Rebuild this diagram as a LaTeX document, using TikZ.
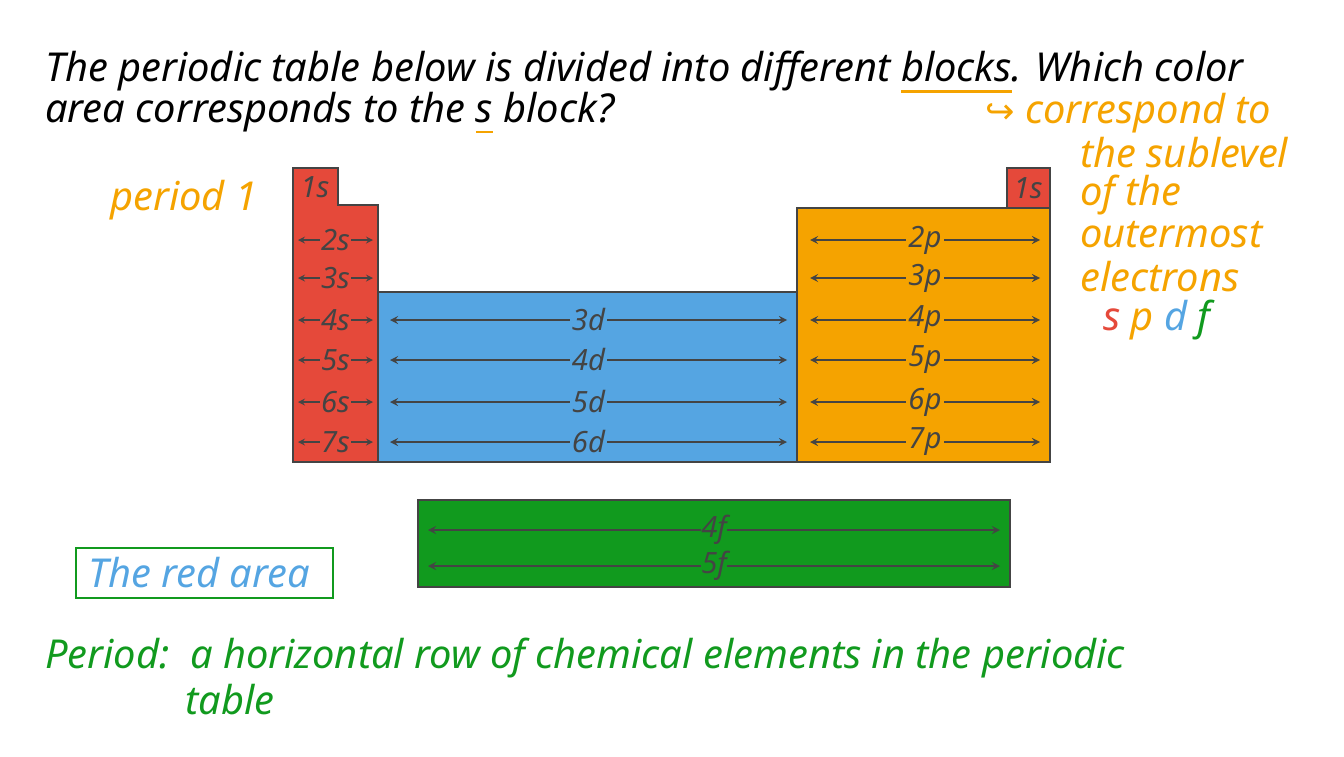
\documentclass[tikz,border=0pt]{standalone}
\usepackage{fontspec}
\setmainfont{Noto Sans}
\newfontfamily\symfont{DejaVu Sans}
\usetikzlibrary{positioning}
\definecolor{sred}{HTML}{E5493A}
\definecolor{pora}{HTML}{F5A300}
\definecolor{dblue}{HTML}{55A5E2}
\definecolor{fgreen}{HTML}{119A1E}
\definecolor{edge}{HTML}{444444}
\definecolor{anno}{HTML}{F5A300}
\newcommand\oul[1]{\setbox0\hbox{#1}\rlap{\color{pora}\rule[-9pt]{\wd0}{2.2pt}}#1}
\begin{document}
\begin{tikzpicture}[x=0.03cm,y=-0.03cm,
  blockfill/.style={draw=edge,line width=2.5pt},
  lbl/.style={font=\fontsize{25}{27}\selectfont\itshape,text=edge,inner sep=2pt},
  rowarrow/.style={edge,line width=2pt,<->,>=stealth},
  big/.style={font=\fontsize{34}{38}\selectfont\itshape,anchor=west,inner sep=0pt},
]
\useasboundingbox (0,0) rectangle (1344,756);
% title
\node[big] (q1) at (45,72) {The periodic table below is divided into different \oul{blocks}. Which color};
\node[big] (q2) at (45,113) {area corresponds to the \oul{s} block?};
% blocks
\draw[blockfill,fill=sred] (293,168) -- (338,168) -- (338,205) -- (378,205) -- (378,462) -- (293,462) -- cycle;
\draw[blockfill,fill=sred] (1007,168) rectangle (1050,208);
\draw[blockfill,fill=pora] (797,208) rectangle (1050,462);
\draw[blockfill,fill=dblue] (378,292) rectangle (797,462);
\draw[blockfill,fill=fgreen] (418,500) rectangle (1010,587);
\node[lbl] (s1) at (315,187) {1s};
\node[lbl] (s1b) at (1028,188) {1s};
% s rows
\foreach \n/\y in {2/240,3/278,4/320,5/360,6/402,7/442}{
  \coordinate (sl\n) at (298,\y); \coordinate (sr\n) at (373,\y);
  \draw[rowarrow,line width=1.6pt] (sl\n) -- (sr\n) node[midway,lbl,fill=sred,inner sep=1pt] {\n s};
}
% d rows
\foreach \n/\y in {3/320,4/360,5/402,6/442}{
  \coordinate (dl\n) at (390,\y); \coordinate (dr\n) at (787,\y);
  \draw[rowarrow] (dl\n) -- (dr\n) node[midway,lbl,fill=dblue] {\n d};
}
% p rows
\foreach \n/\y in {2/240,3/278,4/320,5/360,6/402,7/442}{
  \coordinate (pl\n) at (810,\y); \coordinate (pr\n) at (1040,\y);
  \draw[rowarrow] (pl\n) -- (pr\n) node[midway,lbl,fill=pora] {\n p};
}
% f rows
\foreach \n/\y in {4/530,5/566}{
  \coordinate (fl\n) at (428,\y); \coordinate (fr\n) at (1000,\y);
  \draw[rowarrow] (fl\n) -- (fr\n) node[midway,lbl,fill=fgreen,inner sep=0pt] {\n f};
}
% annotations
\node[big,text=anno] (per1) at (110,200) {period 1};
\node[big,text=anno] (c1) at (985,113) {{\symfont\fontsize{30}{32}\selectfont\upshape ↪}\ correspond to};
\node[big,text=anno] (c2) at (1080,153) {the sublevel};
\node[big,text=anno] (c3) at (1080,195) {of the};
\node[big,text=anno] (c4) at (1080,235) {outermost};
\node[big,text=anno] (c5) at (1080,277) {electrons};
\node[big] (spdf) at (1103,320) {\textcolor{sred}{s} \textcolor{pora}{p} \textcolor{dblue}{d} \textcolor{fgreen}{f}};
% answer
\draw[fgreen,line width=2.5pt] (76,548) rectangle (333,598);
\node[big,text=dblue] (ans) at (88,573) {The red area};
% definition
\node[big,text=fgreen] (def1) at (45,658) {Period:\ \ a horizontal row of chemical elements in the periodic};
\node[big,text=fgreen] (def2) at (185,700) {table};
\end{tikzpicture}
\end{document}
